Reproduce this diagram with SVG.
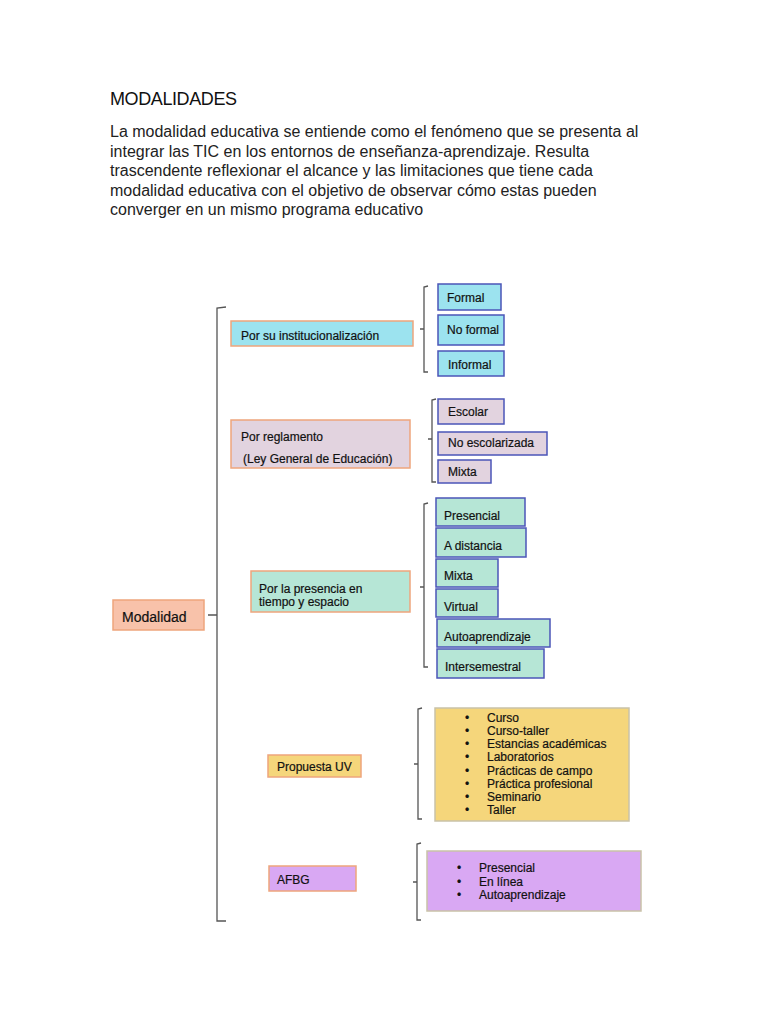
<svg xmlns="http://www.w3.org/2000/svg" width="768" height="1024" viewBox="0 0 768 1024">
<style>
.h{font-family:"Liberation Sans",Arial,sans-serif;font-size:18px;fill:#111}
.p{font-family:"Liberation Sans",Arial,sans-serif;font-size:16px;fill:#222}
.t{font-family:"Liberation Sans",Arial,sans-serif;font-size:12px;fill:#111;stroke:#111;stroke-width:0.2}
.m{font-family:"Liberation Sans",Arial,sans-serif;font-size:14px;fill:#111;stroke:#111;stroke-width:0.2}
.par{stroke:#eea57c;stroke-width:1.5}
.kid{stroke:#4b55b8;stroke-width:1.5}
.lst{stroke:#c9c2a8;stroke-width:1.5}
.br{fill:none;stroke:#555;stroke-width:1.3}
.cy{fill:#9ce3ef}
.pk{fill:#e2d3df}
.gr{fill:#b6e6d6}
.yl{fill:#f5d67b}
.vi{fill:#d9a8f3}
</style>
<rect width="768" height="1024" fill="#fff"/>
<text class="h" x="110" y="105" textLength="127">MODALIDADES</text>
<text class="p" x="110" y="137">La modalidad educativa se entiende como el fenómeno que se presenta al</text>
<text class="p" x="110" y="157">integrar las TIC en los entornos de enseñanza-aprendizaje. Resulta</text>
<text class="p" x="110" y="176">trascendente reflexionar el alcance y las limitaciones que tiene cada</text>
<text class="p" x="110" y="196">modalidad educativa con el objetivo de observar cómo estas pueden</text>
<text class="p" x="110" y="215">converger en un mismo programa educativo</text>

<g id="connectors">
<path class="br" d="M226,307 L217,308 L217,921 L226,921 M217,615 L208,615"/>
<path class="br" d="M428,286 L424,287 L424,372 L428,372 M424,329 L420,329"/>
<path class="br" d="M436,399 L432,400 L432,482 L436,482 M432,439 L428,439"/>
<path class="br" d="M428,503 L424,504 L424,667 L428,667 M424,587 L420,587"/>
<path class="br" d="M422,708 L418,709 L418,819 L422,819 M418,764 L414,764"/>
<path class="br" d="M421,843 L417,844 L417,920 L421,920 M417,882 L413,882"/>
</g>

<g id="modalidad"><rect class="par" x="113" y="600" width="91" height="30" fill="#f8c2aa"/><text class="m" x="122" y="622">Modalidad</text></g>

<g id="institucionalizacion"><rect class="par cy" x="231" y="321" width="182" height="25"/><text class="t" x="241" y="340">Por su institucionalización</text></g>
<g id="formal"><rect class="kid cy" x="438" y="284" width="63" height="26"/><text class="t" x="447" y="302">Formal</text></g>
<g id="noformal"><rect class="kid cy" x="438" y="315" width="66" height="30"/><text class="t" x="447" y="334">No formal</text></g>
<g id="informal"><rect class="kid cy" x="438" y="351" width="66" height="25"/><text class="t" x="448" y="369">Informal</text></g>

<g id="reglamento"><rect class="par pk" x="231" y="420" width="179" height="48"/><text class="t" x="241" y="441">Por reglamento</text><text class="t" x="243" y="463">(Ley General de Educación)</text></g>
<g id="escolar"><rect class="kid pk" x="438" y="399" width="66" height="25"/><text class="t" x="448" y="416">Escolar</text></g>
<g id="noescolarizada"><rect class="kid pk" x="438" y="432" width="109" height="23"/><text class="t" x="448" y="447">No escolarizada</text></g>
<g id="mixta1"><rect class="kid pk" x="438" y="460" width="53" height="23"/><text class="t" x="448" y="476">Mixta</text></g>

<g id="presencia"><rect class="par gr" x="251" y="571" width="159" height="41"/><text class="t" x="259" y="593">Por la presencia en</text><text class="t" x="259" y="606">tiempo y espacio</text></g>
<g id="presencial"><rect class="kid gr" x="436" y="498" width="89" height="28"/><text class="t" x="444" y="520">Presencial</text></g>
<g id="distancia"><rect class="kid gr" x="436" y="528" width="90" height="29"/><text class="t" x="444" y="550">A distancia</text></g>
<g id="mixta2"><rect class="kid gr" x="436" y="559" width="62" height="28"/><text class="t" x="444" y="580">Mixta</text></g>
<g id="virtual"><rect class="kid gr" x="436" y="589" width="62" height="28"/><text class="t" x="444" y="611">Virtual</text></g>
<g id="autoaprendizaje"><rect class="kid gr" x="437" y="619" width="113" height="28"/><text class="t" x="444" y="641">Autoaprendizaje</text></g>
<g id="intersemestral"><rect class="kid gr" x="437" y="649" width="107" height="29"/><text class="t" x="445" y="671">Intersemestral</text></g>

<g id="propuesta"><rect class="par yl" x="268" y="755" width="93" height="22"/><text class="t" x="277" y="771">Propuesta UV</text></g>
<g id="lista-uv"><rect class="lst yl" x="435" y="708" width="194" height="113"/>
<g class="t">
<text x="465" y="722">•</text><text x="487" y="722">Curso</text>
<text x="465" y="735">•</text><text x="487" y="735">Curso-taller</text>
<text x="465" y="748">•</text><text x="487" y="748">Estancias académicas</text>
<text x="465" y="761">•</text><text x="487" y="761">Laboratorios</text>
<text x="465" y="775">•</text><text x="487" y="775">Prácticas de campo</text>
<text x="465" y="788">•</text><text x="487" y="788">Práctica profesional</text>
<text x="465" y="801">•</text><text x="487" y="801">Seminario</text>
<text x="465" y="814">•</text><text x="487" y="814">Taller</text>
</g></g>

<g id="afbg"><rect class="par vi" x="269" y="866" width="87" height="25"/><text class="t" x="277" y="884">AFBG</text></g>
<g id="lista-afbg"><rect class="lst vi" x="427" y="851" width="214" height="60"/>
<g class="t">
<text x="457" y="872">•</text><text x="479" y="872">Presencial</text>
<text x="457" y="886">•</text><text x="479" y="886">En línea</text>
<text x="457" y="899">•</text><text x="479" y="899">Autoaprendizaje</text>
</g></g>
</svg>
